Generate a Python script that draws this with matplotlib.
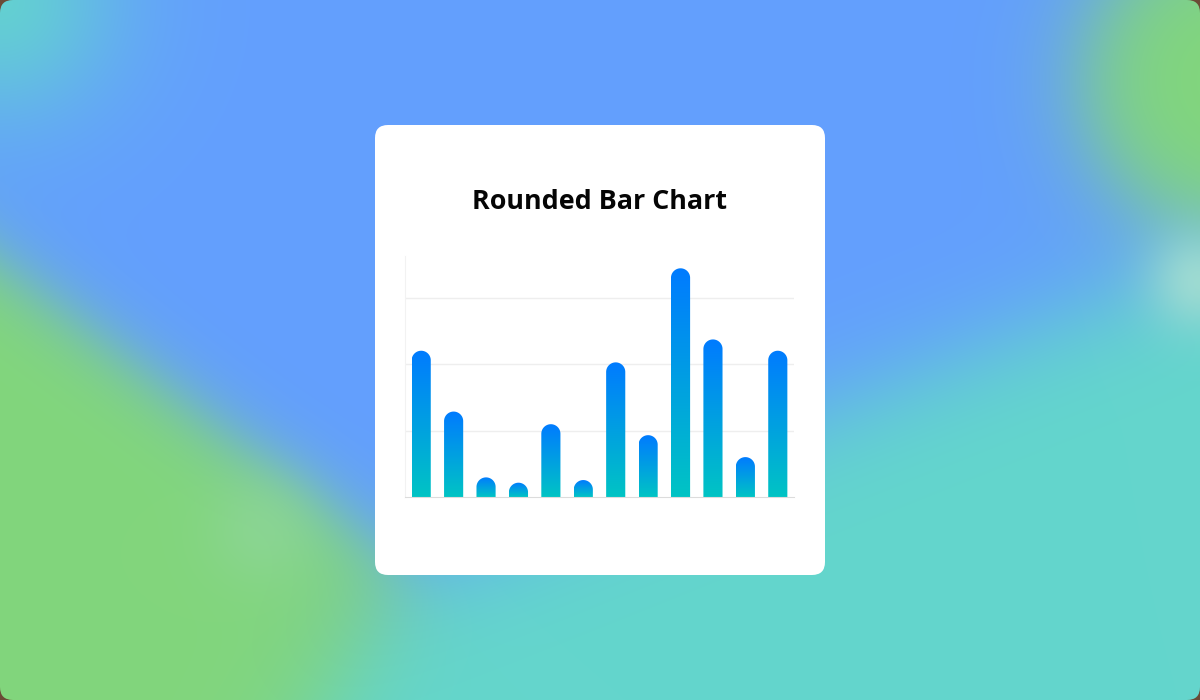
import numpy as np
import matplotlib
matplotlib.use("Agg")
import matplotlib.pyplot as plt
from matplotlib.patches import FancyBboxPatch, PathPatch
from matplotlib.path import Path
from matplotlib.colors import LinearSegmentedColormap, to_rgb

# data
categories = list(range(1, 13))
values = [44.0, 25.7, 5.9, 4.3, 21.9, 5.1, 40.5, 18.6, 68.8, 47.4, 12.0, 44.0]
grid_ticks = [20, 40, 60]
y_max = 72.5
title = "Rounded Bar Chart"

W, H = 1200, 700
fig = plt.figure(figsize=(12, 7), dpi=100, facecolor="#6b4b36")

# soft blurred background
bg_ax = fig.add_axes([0, 0, 1, 1])
bg_ax.set_xlim(0, W)
bg_ax.set_ylim(H, 0)
bg_ax.axis("off")

sig = lambda z: 1 / (1 + np.exp(-z))
yy, xx = np.mgrid[0:H, 0:W].astype(float)
blue = np.array(to_rgb("#639ffe"))
teal = np.array(to_rgb("#64d6cc"))
green = np.array(to_rgb("#82d67c"))


def mix(img, col, w):
    w = w[..., None]
    return img * (1 - w) + np.asarray(col) * w


img = np.ones((H, W, 3)) * blue
img = mix(img, teal, sig((yy - (400 - 0.4 * (xx - 850))) / 32))
img = mix(img, green, sig((yy - 262 - 0.75 * xx) / 24) * sig((330 + (H - yy) * 0.6 - xx) / 35))
img = mix(img, green, sig((150 - np.hypot(xx - 1235, yy - 80)) / 28))
img = mix(img, teal, sig((90 - np.hypot(xx, yy)) / 40))
img = mix(img, to_rgb("#a6ded2"), 0.85 * np.exp(-((xx - 1198) ** 2 + (yy - 280) ** 2) / (2 * 35 ** 2)))
img = mix(img, to_rgb("#90d69c"), 0.6 * np.exp(-((xx - 262) ** 2 + (yy - 530) ** 2) / (2 * 40 ** 2)))

frame = FancyBboxPatch((0, 0), W, H, boxstyle="round,pad=0,rounding_size=13",
                       facecolor="none", edgecolor="none")
bg_ax.add_patch(frame)
im = bg_ax.imshow(img, extent=(0, W, H, 0), aspect="auto", interpolation="bilinear")
im.set_clip_path(frame)

# white card
card = FancyBboxPatch((375, 125), 450, 450, boxstyle="round,pad=0,rounding_size=13",
                      facecolor="white", edgecolor="none")
bg_ax.add_patch(card)

fig.text(0.5, 1 - 202 / H, title, ha="center", va="center", fontsize=19.4,
         fontweight="bold", family=["Open Sans", "DejaVu Sans"], color="#050505")

# bar chart
ax_l, ax_r, ax_t, ax_b = 405, 794, 256, 497
ax = fig.add_axes([ax_l / W, (H - ax_b) / H, (ax_r - ax_l) / W, (ax_b - ax_t) / H])
ax.set_facecolor("white")
for s in ["top", "right"]:
    ax.spines[s].set_visible(False)
ax.spines["left"].set_color("#f2f2f2")
ax.spines["bottom"].set_color("#dcdcdc")
ax.tick_params(left=False, bottom=False, labelleft=False, labelbottom=False)
for g in grid_ticks:
    ax.axhline(g, color="#eeeeee", lw=1, zorder=0)

cmap = LinearSegmentedColormap.from_list("bar", ["#00c4c4", "#007bff"])
grad = np.linspace(0, 1, 256).reshape(-1, 1)

n = len(categories)
hw = 0.295
px_per_x = (ax_r - ax_l) / n
px_per_y = (ax_b - ax_t) / y_max
ry = hw * px_per_x / px_per_y
t = np.linspace(np.pi, 0, 40)
for i, v in enumerate(values):
    x = i
    verts = [(x - hw, 0), (x - hw, v - ry)]
    verts += list(zip(x + hw * np.cos(t), v - ry + ry * np.sin(t)))
    verts += [(x + hw, 0), (x - hw, 0)]
    codes = [Path.MOVETO] + [Path.LINETO] * (len(verts) - 2) + [Path.CLOSEPOLY]
    patch = PathPatch(Path(verts, codes), facecolor="none", edgecolor="none")
    ax.add_patch(patch)
    bar = ax.imshow(grad, extent=(x - hw, x + hw, 0, v), origin="lower",
                    aspect="auto", cmap=cmap, zorder=2)
    bar.set_clip_path(patch)

ax.set_xlim(-0.5, n - 0.5)
ax.set_ylim(0, y_max)

fig.savefig("out.png", dpi=100, facecolor=fig.get_facecolor())
